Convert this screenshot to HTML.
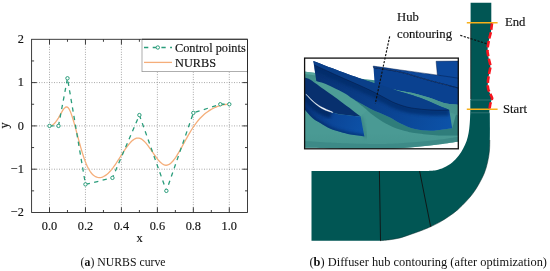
<!DOCTYPE html><html><head><meta charset="utf-8"><style>html,body{margin:0;padding:0;background:#fff}body{width:550px;height:271px;overflow:hidden;position:relative}</style></head><body><svg width="550" height="271" viewBox="0 0 550 271" style="position:absolute;left:0;top:0">
<rect width="550" height="271" fill="#fff"/>
<g stroke="#777" stroke-width="0.8" stroke-dasharray="0.8,1.7" fill="none">
<path d="M49.50,39.3 V212.5"/>
<path d="M85.46,39.3 V212.5"/>
<path d="M121.42,39.3 V212.5"/>
<path d="M157.38,39.3 V212.5"/>
<path d="M193.34,39.3 V212.5"/>
<path d="M229.30,39.3 V212.5"/>
<path d="M31.6,82.60 H247.5"/>
<path d="M31.6,125.90 H247.5"/>
<path d="M31.6,169.20 H247.5"/>
</g>
<path d="M49.50,125.90 L50.65,125.77 L51.76,125.39 L52.82,124.79 L53.83,124.00 L54.81,123.04 L55.75,121.94 L56.65,120.73 L57.51,119.44 L58.35,118.08 L59.16,116.70 L59.94,115.31 L60.70,113.94 L61.44,112.61 L62.17,111.37 L62.87,110.22 L63.57,109.21 L64.26,108.35 L64.94,107.67 L65.61,107.21 L66.29,106.98 L66.96,107.01 L67.64,107.33 L68.33,107.97 L69.02,108.94 L69.72,110.22 L70.44,111.79 L71.16,113.63 L71.89,115.70 L72.63,117.99 L73.39,120.46 L74.15,123.11 L74.93,125.89 L75.72,128.80 L76.52,131.80 L77.33,134.86 L78.16,137.97 L79.00,141.10 L79.86,144.23 L80.73,147.33 L81.61,150.38 L82.51,153.35 L83.42,156.22 L84.35,158.97 L85.30,161.56 L86.26,163.98 L87.24,166.21 L88.24,168.22 L89.25,170.02 L90.28,171.61 L91.32,173.01 L92.38,174.21 L93.45,175.22 L94.53,176.05 L95.62,176.69 L96.73,177.16 L97.85,177.46 L98.97,177.58 L100.10,177.55 L101.25,177.36 L102.40,177.02 L103.55,176.52 L104.71,175.89 L105.88,175.11 L107.05,174.21 L108.22,173.17 L109.40,172.01 L110.58,170.72 L111.76,169.33 L112.94,167.82 L114.12,166.21 L115.30,164.52 L116.48,162.76 L117.66,160.95 L118.84,159.10 L120.02,157.23 L121.20,155.36 L122.38,153.51 L123.56,151.68 L124.74,149.90 L125.92,148.18 L127.09,146.54 L128.27,145.00 L129.45,143.57 L130.63,142.26 L131.81,141.10 L132.99,140.10 L134.17,139.27 L135.35,138.64 L136.53,138.22 L137.71,138.03 L138.89,138.07 L140.07,138.37 L141.25,138.93 L142.43,139.71 L143.61,140.69 L144.79,141.85 L145.97,143.16 L147.15,144.60 L148.33,146.15 L149.51,147.78 L150.69,149.46 L151.87,151.17 L153.05,152.89 L154.23,154.59 L155.41,156.25 L156.59,157.84 L157.77,159.34 L158.95,160.73 L160.13,161.97 L161.31,163.05 L162.49,163.94 L163.67,164.62 L164.85,165.06 L166.03,165.23 L167.21,165.12 L168.39,164.73 L169.58,164.08 L170.76,163.18 L171.95,162.06 L173.15,160.73 L174.35,159.20 L175.56,157.51 L176.78,155.67 L178.00,153.69 L179.24,151.59 L180.49,149.39 L181.76,147.12 L183.04,144.78 L184.33,142.41 L185.64,140.00 L186.97,137.59 L188.32,135.19 L189.69,132.83 L191.07,130.51 L192.48,128.25 L193.92,126.08 L195.38,124.02 L196.86,122.08 L198.37,120.25 L199.89,118.55 L201.44,116.96 L202.99,115.48 L204.56,114.11 L206.13,112.84 L207.70,111.68 L209.27,110.62 L210.84,109.65 L212.40,108.77 L213.95,107.98 L215.48,107.28 L217.00,106.66 L218.50,106.12 L219.97,105.65 L221.41,105.26 L222.83,104.94 L224.20,104.68 L225.54,104.49 L226.84,104.35 L228.09,104.28 L229.30,104.25" fill="none" stroke="#f5ae7a" stroke-width="1.3"/>
<path d="M49.50,125.90 L58.49,125.90 L67.48,78.27 L85.46,184.36 L112.43,177.86 L139.40,115.07 L166.37,190.85 L193.34,112.91 L220.31,104.25 L229.30,104.25" fill="none" stroke="#2a9d7b" stroke-width="1.3" stroke-dasharray="4.3,4.4"/>
<circle cx="49.50" cy="125.90" r="1.7" fill="#fff" stroke="#2a9d7b" stroke-width="1"/>
<circle cx="58.49" cy="125.90" r="1.7" fill="#fff" stroke="#2a9d7b" stroke-width="1"/>
<circle cx="67.48" cy="78.27" r="1.7" fill="#fff" stroke="#2a9d7b" stroke-width="1"/>
<circle cx="85.46" cy="184.36" r="1.7" fill="#fff" stroke="#2a9d7b" stroke-width="1"/>
<circle cx="112.43" cy="177.86" r="1.7" fill="#fff" stroke="#2a9d7b" stroke-width="1"/>
<circle cx="139.40" cy="115.07" r="1.7" fill="#fff" stroke="#2a9d7b" stroke-width="1"/>
<circle cx="166.37" cy="190.85" r="1.7" fill="#fff" stroke="#2a9d7b" stroke-width="1"/>
<circle cx="193.34" cy="112.91" r="1.7" fill="#fff" stroke="#2a9d7b" stroke-width="1"/>
<circle cx="220.31" cy="104.25" r="1.7" fill="#fff" stroke="#2a9d7b" stroke-width="1"/>
<circle cx="229.30" cy="104.25" r="1.7" fill="#fff" stroke="#2a9d7b" stroke-width="1"/>
<g stroke="#2a2a2a" stroke-width="0.9" fill="none">
<rect x="31.6" y="39.3" width="215.9" height="173.2"/>
<path d="M49.50,212.5 v-5.2 M49.50,39.3 v5.2"/>
<path d="M67.48,212.5 v-2.5 M67.48,39.3 v2.5"/>
<path d="M85.46,212.5 v-5.2 M85.46,39.3 v5.2"/>
<path d="M103.44,212.5 v-2.5 M103.44,39.3 v2.5"/>
<path d="M121.42,212.5 v-5.2 M121.42,39.3 v5.2"/>
<path d="M139.40,212.5 v-2.5 M139.40,39.3 v2.5"/>
<path d="M157.38,212.5 v-5.2 M157.38,39.3 v5.2"/>
<path d="M175.36,212.5 v-2.5 M175.36,39.3 v2.5"/>
<path d="M193.34,212.5 v-5.2 M193.34,39.3 v5.2"/>
<path d="M211.32,212.5 v-2.5 M211.32,39.3 v2.5"/>
<path d="M229.30,212.5 v-5.2 M229.30,39.3 v5.2"/>
<path d="M31.6,190.85 h2.5 M247.5,190.85 h-2.5"/>
<path d="M31.6,169.20 h5.2 M247.5,169.20 h-5.2"/>
<path d="M31.6,147.55 h2.5 M247.5,147.55 h-2.5"/>
<path d="M31.6,125.90 h5.2 M247.5,125.90 h-5.2"/>
<path d="M31.6,104.25 h2.5 M247.5,104.25 h-2.5"/>
<path d="M31.6,82.60 h5.2 M247.5,82.60 h-5.2"/>
<path d="M31.6,60.95 h2.5 M247.5,60.95 h-2.5"/>
</g>
<rect x="142" y="39.3" width="105.5" height="32.3" fill="#fff" stroke="#9a9a9a" stroke-width="0.8"/>
<path d="M247.5,39.3 V72.6" stroke="#2a2a2a" stroke-width="1"/>
<path d="M142,39.3 H247.5" stroke="#2a2a2a" stroke-width="1"/>
<path d="M144,47.5 H172" stroke="#2a9d7b" stroke-width="1.3" stroke-dasharray="4.3,4.4"/>
<circle cx="157.8" cy="47.5" r="1.7" fill="#fff" stroke="#2a9d7b" stroke-width="1"/>
<path d="M144,62.4 H172" stroke="#f5ae7a" stroke-width="1.3"/>
<text x="175" y="52" font-family="Liberation Serif, serif" font-size="12.3" fill="#111" stroke="#111" stroke-width="0.15">Control points</text>
<text x="175" y="67" font-family="Liberation Serif, serif" font-size="12.3" fill="#111" stroke="#111" stroke-width="0.15">NURBS</text>
<text x="49.50" y="229.9" text-anchor="middle" font-family="Liberation Serif, serif" font-size="12.3" fill="#111" stroke="#111" stroke-width="0.15">0.0</text>
<text x="85.46" y="229.9" text-anchor="middle" font-family="Liberation Serif, serif" font-size="12.3" fill="#111" stroke="#111" stroke-width="0.15">0.2</text>
<text x="121.42" y="229.9" text-anchor="middle" font-family="Liberation Serif, serif" font-size="12.3" fill="#111" stroke="#111" stroke-width="0.15">0.4</text>
<text x="157.38" y="229.9" text-anchor="middle" font-family="Liberation Serif, serif" font-size="12.3" fill="#111" stroke="#111" stroke-width="0.15">0.6</text>
<text x="193.34" y="229.9" text-anchor="middle" font-family="Liberation Serif, serif" font-size="12.3" fill="#111" stroke="#111" stroke-width="0.15">0.8</text>
<text x="229.30" y="229.9" text-anchor="middle" font-family="Liberation Serif, serif" font-size="12.3" fill="#111" stroke="#111" stroke-width="0.15">1.0</text>
<text x="24" y="43.10" text-anchor="end" font-family="Liberation Serif, serif" font-size="12.3" fill="#111" stroke="#111" stroke-width="0.15">2</text>
<text x="24" y="86.40" text-anchor="end" font-family="Liberation Serif, serif" font-size="12.3" fill="#111" stroke="#111" stroke-width="0.15">1</text>
<text x="24" y="129.70" text-anchor="end" font-family="Liberation Serif, serif" font-size="12.3" fill="#111" stroke="#111" stroke-width="0.15">0</text>
<text x="24" y="173.00" text-anchor="end" font-family="Liberation Serif, serif" font-size="12.3" fill="#111" stroke="#111" stroke-width="0.15">−1</text>
<text x="24" y="216.30" text-anchor="end" font-family="Liberation Serif, serif" font-size="12.3" fill="#111" stroke="#111" stroke-width="0.15">−2</text>
<text x="139.6" y="242.2" text-anchor="middle" font-family="Liberation Serif, serif" font-size="12.3" fill="#111" stroke="#111" stroke-width="0.15">x</text>
<text transform="translate(8.1,125.5) rotate(-90)" text-anchor="middle" font-family="Liberation Serif, serif" font-size="12.3" fill="#111" stroke="#111" stroke-width="0.15">y</text>
<path d="M470.6,2.8 H491.3 V22.7 L492.0,23.3 L490.9,32.2 L489.1,39.2 L487.8,46.5 L487.5,51.6 L488.6,58 L490.2,64.2 L490.4,67.5 L489.2,73 L488.0,80.5 L487.7,85.5 L488.3,89.5 L489.8,93 L491.3,96 L492.2,98.3 L491.2,101 L490.2,104.5 L489.6,108.4 L489.3,112.5 L489.8,113.5 C489.8,115.9 489.9,123.6 489.9,128.0 C489.9,132.4 489.9,136.2 489.8,140.0 C489.7,143.8 489.8,147.3 489.4,151.0 C489.0,154.7 488.5,158.4 487.6,162.1 C486.8,165.8 485.8,169.5 484.3,173.2 C482.8,176.9 480.7,180.8 478.8,184.2 C476.9,187.5 475.1,190.5 473.0,193.3 C470.9,196.1 469.0,198.3 466.4,201.1 C463.8,203.9 460.4,207.3 457.5,209.9 C454.6,212.5 451.6,214.5 448.7,216.5 C445.8,218.5 442.8,220.4 439.8,222.1 C436.9,223.8 433.9,225.1 431.0,226.5 C428.1,227.9 425.4,229.0 422.1,230.3 C418.8,231.6 414.8,232.9 411.1,234.2 C407.4,235.5 403.5,237.0 400.0,237.9 C396.5,238.8 393.3,239.2 390.0,239.7 C386.7,240.2 381.7,240.5 380.0,240.7 H311.5 V171 L427.0,171.0 C428.5,170.9 433.2,170.9 436.0,170.3 C438.8,169.7 441.3,168.9 444.0,167.6 C446.7,166.3 449.8,164.4 452.2,162.4 C454.6,160.4 456.8,158.1 458.6,155.8 C460.4,153.5 461.9,151.1 463.2,148.6 C464.5,146.1 465.7,143.6 466.6,141.0 C467.5,138.4 468.1,135.7 468.6,133.0 C469.1,130.3 469.4,127.7 469.6,125.0 C469.9,122.3 470.0,119.2 470.1,117.0 C470.2,114.8 470.3,112.8 470.3,112.0 V100 H470.6 Z" fill="#015654"/>
<path d="M489.8,140.0 C489.7,141.8 489.8,147.3 489.4,151.0 C489.0,154.7 488.5,158.4 487.6,162.1 C486.8,165.8 485.8,169.5 484.3,173.2 C482.8,176.9 480.7,180.8 478.8,184.2 C476.9,187.5 475.1,190.5 473.0,193.3 C470.9,196.1 469.0,198.3 466.4,201.1 C463.8,203.9 460.4,207.3 457.5,209.9 C454.6,212.5 451.6,214.5 448.7,216.5 C445.8,218.5 442.8,220.4 439.8,222.1 C436.9,223.8 433.9,225.1 431.0,226.5 C428.1,227.9 425.4,229.0 422.1,230.3 C418.8,231.6 414.8,232.9 411.1,234.2 C407.4,235.5 403.5,237.0 400.0,237.9 C396.5,238.8 393.3,239.2 390.0,239.7 C386.7,240.2 381.7,240.5 380.0,240.7" fill="none" stroke="#0b2b2b" stroke-width="0.5"/>
<g stroke="#111" stroke-width="0.9" fill="none">
<path d="M379.4,171 L380.5,240.7"/>
<path d="M419.6,171 L430.7,226.8"/>
<path d="M470.8,23.5 V99" stroke="#2b2b2b" stroke-width="0.8"/>
</g>
<path d="M470.4,100 H491 M470.3,112.8 H489.4" stroke="#3b7b7b" stroke-width="0.8" fill="none"/>
<path d="M466.8,22.7 H497.6 M466.8,109.2 H497.6" stroke="#f8b01a" stroke-width="1.5" fill="none"/>
<path d="M492.0,23.3 L490.9,32.2 L489.1,39.2 L487.8,46.5 L487.5,51.6 L488.6,58 L490.2,64.2 L490.4,67.5 L489.2,73 L488.0,80.5 L487.7,85.5 L488.3,89.5 L489.8,93 L491.3,96 L492.2,98.3 L491.2,101 L490.2,104.5 L489.6,108.4" stroke="#f8141d" stroke-width="2.6" stroke-dasharray="6.5,2.5" fill="none" stroke-linejoin="round"/>
<path d="M460.3,35.4 L487.6,44" stroke="#111" stroke-width="1.15" stroke-dasharray="2.2,1.4" fill="none"/>
<defs><clipPath id="ic"><rect x="304.6" y="58.1" width="153.7" height="90.70000000000002"/></clipPath>
<linearGradient id="hub" gradientUnits="userSpaceOnUse" x1="0" y1="72" x2="0" y2="148"><stop offset="0" stop-color="#3f8c88"/><stop offset="0.25" stop-color="#4a9a94"/><stop offset="0.8" stop-color="#4a9a94"/><stop offset="1" stop-color="#46958f"/></linearGradient>
<linearGradient id="gM" gradientUnits="userSpaceOnUse" x1="315" y1="70" x2="450" y2="125"><stop offset="0" stop-color="#073172"/><stop offset="0.45" stop-color="#0a3f8b"/><stop offset="1" stop-color="#0c52a8"/></linearGradient>
<linearGradient id="gL" gradientUnits="userSpaceOnUse" x1="305" y1="105" x2="364" y2="130"><stop offset="0" stop-color="#08367c"/><stop offset="0.5" stop-color="#0b4698"/><stop offset="1" stop-color="#0d52a8"/></linearGradient>
<filter id="bl" x="-20%" y="-20%" width="140%" height="140%"><feGaussianBlur stdDeviation="2.2"/></filter>
<linearGradient id="gS" gradientUnits="userSpaceOnUse" x1="375" y1="0" x2="458" y2="0"><stop offset="0" stop-color="#4f9d96"/><stop offset="0.5" stop-color="#4d9b94"/><stop offset="1" stop-color="#44918c"/></linearGradient>
<filter id="bl05" x="-20%" y="-20%" width="140%" height="140%"><feGaussianBlur stdDeviation="0.7"/></filter>
<filter id="bl1" x="-20%" y="-20%" width="140%" height="140%"><feGaussianBlur stdDeviation="1.4"/></filter>
</defs>
<g clip-path="url(#ic)">
<rect x="304.6" y="58.1" width="153.7" height="90.70000000000002" fill="#fff"/>
<path d="M303.0,71.4 C309.2,72.2 328.0,74.5 340.0,76.0 C352.0,77.5 361.7,79.0 375.0,80.3 C388.3,81.6 405.8,83.0 420.0,84.0 C434.2,85.0 453.3,85.7 460.0,86.0 L460.0,141.3 C456.7,141.8 446.7,143.3 440.0,144.2 C433.3,145.1 426.7,145.9 420.0,146.6 C413.3,147.3 406.7,147.9 400.0,148.3 C393.3,148.7 388.3,149.1 380.0,149.2 C371.7,149.3 358.3,149.1 350.0,149.0 C341.7,148.9 337.8,148.6 330.0,148.4 C322.2,148.2 307.5,147.9 303.0,147.8 Z" fill="url(#hub)"/>
<path d="M303,71.4 L316,73 L316,75.5 L303,74 Z" fill="#58a69e"/>
<path d="M460.0,141.3 C456.7,141.8 446.7,143.3 440.0,144.2 C433.3,145.1 426.7,145.9 420.0,146.6 C413.3,147.3 406.7,147.9 400.0,148.3 C393.3,148.7 388.3,149.1 380.0,149.2 C371.7,149.3 358.3,149.1 350.0,149.0 C341.7,148.9 337.8,148.6 330.0,148.4 C322.2,148.2 307.5,147.9 303.0,147.8 L303.0,141.0 C307.5,141.3 322.2,142.2 330.0,142.6 C337.8,143.0 341.7,143.3 350.0,143.5 C358.3,143.7 371.7,144.0 380.0,144.0 C388.3,144.0 393.3,143.7 400.0,143.3 C406.7,142.9 413.3,142.4 420.0,141.8 C426.7,141.2 433.3,140.4 440.0,139.5 C446.7,138.6 456.7,137.0 460.0,136.5 Z" fill="#3b8784" opacity="0.8"/>
<path d="M316.3,80.9 C317.6,81.3 321.1,82.2 323.8,83.3 C326.5,84.4 329.2,85.6 332.7,87.3 C336.2,89.0 341.8,91.7 345.0,93.5 C348.2,95.3 349.6,96.8 352.0,98.3 C354.4,99.8 356.5,101.0 359.5,102.7 C362.5,104.4 368.1,107.5 369.8,108.4 L360.4,116.3 L360.4,116.3 C359.0,115.2 355.4,112.5 352.1,110.0 C348.8,107.5 343.9,104.0 340.7,101.6 C337.5,99.2 335.5,97.6 332.7,95.6 C329.9,93.5 326.8,91.4 323.8,89.3 C320.9,87.2 316.5,84.0 315.0,83.0 Z" fill="#4d9d96" filter="url(#bl05)"/>
<path d="M352.0,98.3 C353.2,99.0 356.5,101.0 359.5,102.7 C362.5,104.4 366.4,106.7 369.8,108.4 C373.2,110.1 376.6,111.5 380.0,113.0 C383.4,114.5 386.7,115.8 390.0,117.5 C393.3,119.2 395.9,121.3 400.0,123.2 C404.1,125.1 409.6,127.8 414.9,129.0 C420.1,130.2 425.3,130.8 431.5,130.7 C437.7,130.6 448.8,128.6 452.2,128.2 L460,100 L460,137 L460.0,135.4 C456.4,135.4 445.6,135.8 438.3,135.4 C431.0,135.0 421.9,133.9 416.4,133.2 C410.8,132.5 408.6,131.9 405.0,131.0 C401.4,130.1 398.3,129.3 394.6,127.8 C390.9,126.3 386.6,124.1 383.0,122.0 C379.4,119.9 376.0,117.4 372.8,115.0 C369.6,112.6 366.8,109.8 364.0,107.5 C361.2,105.2 357.3,102.1 356.0,101.0 Z" fill="#2f7b7a" filter="url(#bl05)" opacity="0.95"/>
<path d="M361,117 L366,138" stroke="#2a6f72" stroke-width="3" fill="none" filter="url(#bl1)" opacity="0.5"/>
<path d="M436.1,61.3 L460,61.1 V82 L437.4,75.3 Z" fill="#0c489c" stroke="#06204f" stroke-width="0.5"/>
<path d="M373.5,67.6 C377.9,68.3 391.4,70.1 400.0,72.0 C408.6,73.9 417.9,77.2 425.0,79.2 C432.1,81.2 436.9,82.4 442.7,83.9 C448.5,85.5 457.1,87.7 460.0,88.5 L460.0,105.0 C457.8,104.8 450.2,104.3 446.5,103.6 C442.8,102.9 440.6,101.8 437.7,100.8 C434.8,99.8 431.8,98.6 428.8,97.6 C425.9,96.6 423.1,95.8 420.0,95.0 C416.9,94.2 413.9,93.4 410.0,92.6 C406.1,91.8 400.2,90.8 396.5,90.0 C392.8,89.2 391.3,89.0 387.7,87.9 C384.1,86.8 376.8,84.2 374.6,83.4 Z" fill="#0a4190"/>
<path d="M373.2,66.1 C377.7,66.7 389.2,68.4 400.0,69.9 C410.8,71.4 428.1,73.8 438.1,75.2 C448.1,76.6 456.4,77.9 460.0,78.4 L460.0,88.5 C457.1,87.7 448.5,85.5 442.7,83.9 C436.9,82.4 432.1,81.2 425.0,79.2 C417.9,77.2 408.6,73.9 400.0,72.0 C391.4,70.1 377.9,68.3 373.5,67.6 Z" fill="#0c479a" stroke="#06204f" stroke-width="0.5"/>
<path d="M373.5,67.6 C377.9,68.3 391.4,70.1 400.0,72.0 C408.6,73.9 417.9,77.2 425.0,79.2 C432.1,81.2 436.9,82.4 442.7,83.9 C448.5,85.5 457.1,87.7 460.0,88.5" stroke="#051d49" stroke-width="0.6" fill="none"/>
<path d="M374.6,83.4 C376.8,84.2 384.1,86.8 387.7,87.9 C391.3,89.0 392.8,89.2 396.5,90.0 C400.2,90.8 406.1,91.8 410.0,92.6 C413.9,93.4 416.9,94.2 420.0,95.0 C423.1,95.8 425.9,96.6 428.8,97.6 C431.8,98.6 434.8,99.8 437.7,100.8 C440.6,101.8 442.8,102.9 446.5,103.6 C450.2,104.3 457.8,104.8 460.0,105.0 L460,116 L449,112 L387,90 Z" fill="url(#gS)"/>
<clipPath id="cM"><path d="M313.3,61.1 C317.8,62.8 330.6,67.8 340.0,71.3 C349.4,74.8 362.1,79.1 370.0,81.8 C377.9,84.5 383.3,85.9 387.7,87.3 C392.1,88.7 392.8,89.2 396.5,90.4 C400.2,91.6 406.1,93.2 410.0,94.4 C413.9,95.6 416.9,96.6 420.0,97.7 C423.1,98.8 425.9,100.0 428.8,101.3 C431.8,102.6 434.8,104.0 437.7,105.3 C440.6,106.5 444.6,108.0 446.5,108.8 C448.4,109.6 448.8,109.9 449.2,110.1 L452.2,128.2 L452.2,128.2 C448.8,128.6 437.7,130.6 431.5,130.7 C425.3,130.8 420.1,130.2 414.9,129.0 C409.6,127.8 404.1,125.1 400.0,123.2 C395.9,121.3 393.3,119.2 390.0,117.5 C386.7,115.8 383.4,114.5 380.0,113.0 C376.6,111.5 373.2,110.1 369.8,108.4 C366.4,106.7 362.5,104.4 359.5,102.7 C356.5,101.0 354.4,99.8 352.0,98.3 C349.6,96.8 348.2,95.3 345.0,93.5 C341.8,91.7 336.2,89.0 332.7,87.3 C329.2,85.6 326.5,84.4 323.8,83.3 C321.1,82.2 317.6,81.3 316.3,80.9 Z"/></clipPath>
<path d="M313.3,61.1 C317.8,62.8 330.6,67.8 340.0,71.3 C349.4,74.8 362.1,79.1 370.0,81.8 C377.9,84.5 383.3,85.9 387.7,87.3 C392.1,88.7 392.8,89.2 396.5,90.4 C400.2,91.6 406.1,93.2 410.0,94.4 C413.9,95.6 416.9,96.6 420.0,97.7 C423.1,98.8 425.9,100.0 428.8,101.3 C431.8,102.6 434.8,104.0 437.7,105.3 C440.6,106.5 444.6,108.0 446.5,108.8 C448.4,109.6 448.8,109.9 449.2,110.1 L452.2,128.2 L452.2,128.2 C448.8,128.6 437.7,130.6 431.5,130.7 C425.3,130.8 420.1,130.2 414.9,129.0 C409.6,127.8 404.1,125.1 400.0,123.2 C395.9,121.3 393.3,119.2 390.0,117.5 C386.7,115.8 383.4,114.5 380.0,113.0 C376.6,111.5 373.2,110.1 369.8,108.4 C366.4,106.7 362.5,104.4 359.5,102.7 C356.5,101.0 354.4,99.8 352.0,98.3 C349.6,96.8 348.2,95.3 345.0,93.5 C341.8,91.7 336.2,89.0 332.7,87.3 C329.2,85.6 326.5,84.4 323.8,83.3 C321.1,82.2 317.6,81.3 316.3,80.9 Z" fill="url(#gM)"/>
<g clip-path="url(#cM)"><path d="M314.6,67.2 C318.8,69.1 333.3,75.8 340.0,78.8 C346.7,81.8 350.0,83.2 355.0,85.4 C360.0,87.6 365.0,89.8 370.0,92.2 C375.0,94.6 381.0,97.9 385.0,100.0 C389.0,102.1 390.9,103.3 393.8,104.6 C396.8,105.9 399.8,106.9 402.7,107.8 C405.6,108.7 407.8,109.4 411.5,110.0 C415.2,110.6 420.6,111.2 425.0,111.6 C429.4,112.0 434.0,112.2 438.0,112.3 C442.0,112.4 447.3,112.1 449.2,112.1" stroke="#062b68" stroke-width="7" fill="none" filter="url(#bl1)" opacity="0.7"/></g>
<path d="M313.3,61.1 C317.8,62.8 330.6,67.8 340.0,71.3 C349.4,74.8 362.1,79.1 370.0,81.8 C377.9,84.5 383.3,85.9 387.7,87.3 C392.1,88.7 392.8,89.2 396.5,90.4 C400.2,91.6 406.1,93.2 410.0,94.4 C413.9,95.6 416.9,96.6 420.0,97.7 C423.1,98.8 425.9,100.0 428.8,101.3 C431.8,102.6 434.8,104.0 437.7,105.3 C440.6,106.5 444.6,108.0 446.5,108.8 C448.4,109.6 448.8,109.9 449.2,110.1 L449.2,110.1 C447.3,110.1 442.0,110.4 438.0,110.3 C434.0,110.2 429.4,110.0 425.0,109.6 C420.6,109.2 415.2,108.6 411.5,108.0 C407.8,107.4 405.6,106.7 402.7,105.8 C399.8,104.9 396.8,103.9 393.8,102.6 C390.9,101.3 389.0,100.1 385.0,98.0 C381.0,95.9 375.0,92.6 370.0,90.2 C365.0,87.8 360.0,85.6 355.0,83.4 C350.0,81.2 346.7,79.8 340.0,76.8 C333.3,73.8 318.8,67.1 314.6,65.2 Z" fill="#0a3f89"/>
<path d="M314.6,65.2 C318.8,67.1 333.3,73.8 340.0,76.8 C346.7,79.8 350.0,81.2 355.0,83.4 C360.0,85.6 365.0,87.8 370.0,90.2 C375.0,92.6 381.0,95.9 385.0,98.0 C389.0,100.1 390.9,101.3 393.8,102.6 C396.8,103.9 399.8,104.9 402.7,105.8 C405.6,106.7 407.8,107.4 411.5,108.0 C415.2,108.6 420.6,109.2 425.0,109.6 C429.4,110.0 434.0,110.2 438.0,110.3 C442.0,110.4 447.3,110.1 449.2,110.1" stroke="#051d49" stroke-width="0.6" fill="none"/>
<path d="M303.0,77.0 C304.2,77.4 308.0,78.5 310.0,79.5 C312.0,80.5 312.7,81.4 315.0,83.0 C317.3,84.6 320.9,87.2 323.8,89.3 C326.8,91.4 329.9,93.5 332.7,95.6 C335.5,97.6 337.5,99.2 340.7,101.6 C343.9,104.0 348.8,107.5 352.1,110.0 C355.4,112.5 359.0,115.2 360.4,116.3 L360.6,116.6 C357.4,116.3 346.2,115.3 341.5,114.6 C336.8,113.9 335.4,113.3 332.3,112.2 C329.2,111.1 325.7,109.8 322.7,108.2 C319.7,106.6 317.2,104.9 314.4,102.6 C311.6,100.3 308.0,96.3 306.1,94.4 C304.2,92.5 303.5,91.6 303.0,91.0 Z" fill="#08306e"/>
<clipPath id="cL"><path d="M303.0,91.0 C303.5,91.6 304.2,92.5 306.1,94.4 C308.0,96.3 311.6,100.3 314.4,102.6 C317.2,104.9 319.7,106.6 322.7,108.2 C325.7,109.8 329.2,111.1 332.3,112.2 C335.4,113.3 336.8,113.9 341.5,114.6 C346.2,115.3 357.4,116.3 360.6,116.6 L364.4,136.4 L364.4,136.4 C362.1,136.1 354.7,135.2 350.7,134.5 C346.7,133.8 344.0,133.0 340.6,132.0 C337.2,131.0 333.8,130.2 330.4,128.7 C327.0,127.2 323.3,124.8 320.3,123.0 C317.3,121.2 315.1,120.4 312.2,117.8 C309.3,115.2 304.5,109.0 303.0,107.2 Z"/></clipPath>
<path d="M303.0,91.0 C303.5,91.6 304.2,92.5 306.1,94.4 C308.0,96.3 311.6,100.3 314.4,102.6 C317.2,104.9 319.7,106.6 322.7,108.2 C325.7,109.8 329.2,111.1 332.3,112.2 C335.4,113.3 336.8,113.9 341.5,114.6 C346.2,115.3 357.4,116.3 360.6,116.6 L364.4,136.4 L364.4,136.4 C362.1,136.1 354.7,135.2 350.7,134.5 C346.7,133.8 344.0,133.0 340.6,132.0 C337.2,131.0 333.8,130.2 330.4,128.7 C327.0,127.2 323.3,124.8 320.3,123.0 C317.3,121.2 315.1,120.4 312.2,117.8 C309.3,115.2 304.5,109.0 303.0,107.2 Z" fill="url(#gL)"/>
<g clip-path="url(#cL)"><path d="M303.0,107.2 C304.5,109.0 309.3,115.2 312.2,117.8 C315.1,120.4 317.3,121.2 320.3,123.0 C323.3,124.8 327.0,127.2 330.4,128.7 C333.8,130.2 337.2,131.0 340.6,132.0 C344.0,133.0 346.7,133.8 350.7,134.5 C354.7,135.2 362.1,136.1 364.4,136.4" stroke="#052560" stroke-width="4" fill="none" filter="url(#bl1)" opacity="0.6"/><path d="M302.0,93.5 C302.5,94.1 303.2,95.0 305.1,96.9 C307.0,98.8 310.6,102.8 313.4,105.1 C316.2,107.4 318.7,109.1 321.7,110.7 C324.7,112.3 329.7,114.0 331.3,114.7" stroke="#052560" stroke-width="8" fill="none" filter="url(#bl1)" opacity="0.8"/></g>
<path d="M306.0,94.1 C307.4,95.4 311.6,100.0 314.4,102.2 C317.2,104.5 319.7,106.0 322.7,107.6 C325.7,109.2 331.0,111.3 332.6,112.0 L332.6,112.7 C331.0,112.1 325.7,110.6 322.7,109.0 C319.7,107.4 317.2,105.5 314.4,103.1 C311.6,100.7 307.4,95.9 306.0,94.5 Z" fill="#f2f5f9" stroke="#f2f5f9" stroke-width="0.3"/>
</g>
<rect x="304.6" y="58.1" width="153.7" height="90.70000000000002" fill="none" stroke="#111" stroke-width="1.3"/>
<path d="M389.7,36.4 L375.3,103.6" stroke="#111" stroke-width="1.15" stroke-dasharray="2.2,1.4" fill="none"/>
<text x="397" y="21.2" font-family="Liberation Serif, serif" font-size="12.7" fill="#111" stroke="#111" stroke-width="0.15">Hub</text>
<text x="397" y="37.5" font-family="Liberation Serif, serif" font-size="12.7" fill="#111" stroke="#111" stroke-width="0.15">contouring</text>
<text x="505" y="26.3" font-family="Liberation Serif, serif" font-size="12.7" fill="#111" stroke="#111" stroke-width="0.15">End</text>
<text x="503" y="113.4" font-family="Liberation Serif, serif" font-size="12.7" fill="#111" stroke="#111" stroke-width="0.15">Start</text>
<text x="80.6" y="265.5" font-family="Liberation Serif, serif" font-size="11.6" fill="#111" textLength="85" lengthAdjust="spacingAndGlyphs">(<tspan font-weight="bold">a</tspan>) NURBS curve</text>
<text x="309.5" y="265.5" font-family="Liberation Serif, serif" font-size="11.6" fill="#111" textLength="237.5" lengthAdjust="spacingAndGlyphs">(<tspan font-weight="bold">b</tspan>) Diffuser hub contouring (after optimization)</text>
</svg></body></html>
